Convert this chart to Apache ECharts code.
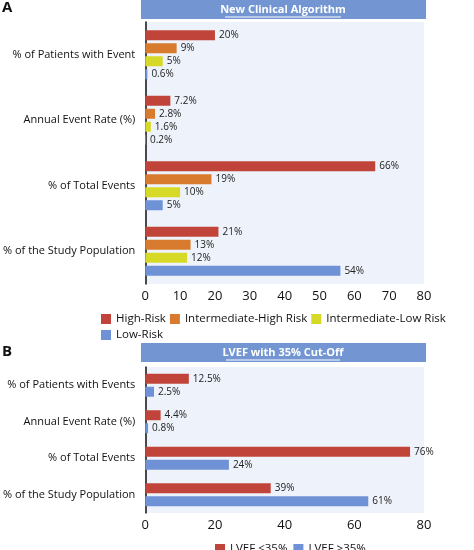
<!DOCTYPE html><html><head><meta charset="utf-8"><script src="https://cdn.jsdelivr.net/npm/echarts@6/dist/echarts.min.js"></script><style>body{margin:0;background:#fff}#c{width:474px;height:550px}</style></head><body><div id="c"></div><script>
const catsA=['% of Patients with Event','Annual Event Rate (%)','% of Total Events','% of the Study Population'];
const namesA=['High-Risk','Intermediate-High Risk','Intermediate-Low Risk','Low-Risk'];
const high=[20,7.2,66,21], highL=['20%','7.2%','66%','21%'];
const ihigh=[9,2.8,19,13], ihighL=['9%','2.8%','19%','13%'];
const ilow=[5,1.6,10,12], ilowL=['5%','1.6%','10%','12%'];
const low=[0.6,0.2,5,56], lowL=['0.6%','0.2%','5%','54%'];
const catsB=['% of Patients with Events','Annual Event Rate (%)','% of Total Events','% of the Study Population'];
const namesB=['LVEF ≤35%','LVEF >35%'];
const lvLow=[12.5,4.4,76,36], lvLowL=['12.5%','4.4%','76%','39%'];
const lvHigh=[2.5,0.8,24,64], lvHighL=['2.5%','0.8%','24%','61%'];
const colsA=['#c1443a','#d97b2e','#d6da26','#6f92d6'];
const colsB=['#c1443a','#6f92d6'];
const F='"Open Sans",sans-serif';
function ser(name,data,labels,color,idx){return {name,type:'bar',xAxisIndex:idx,yAxisIndex:idx,data,barWidth:10,barGap:'30%',itemStyle:{color},
 label:{show:true,position:'right',distance:4,fontSize:10,color:'#222',fontFamily:F,formatter:p=>labels[p.dataIndex]}};}
const xa=(idx,max)=>({gridIndex:idx,min:0,max,interval:idx?20:10,axisLine:{lineStyle:{color:'#111'}},axisTick:{lineStyle:{color:'#111'},length:4},splitLine:{show:false},axisLabel:{fontSize:13,color:'#111',fontFamily:F,margin:6}});
const ya=(idx,cats)=>({gridIndex:idx,type:'category',data:cats,inverse:true,axisLine:{lineStyle:{color:'#111',width:1.5}},axisTick:{show:false},axisLabel:{fontSize:11,color:'#111',fontFamily:F,margin:10}});
const chart=echarts.init(document.getElementById('c'));
chart.setOption({animation:false,
grid:[{left:141,width:283,top:22,height:262,show:true,backgroundColor:'#eef2fa',borderWidth:0},{left:141,width:283,top:367,height:146,show:true,backgroundColor:'#eef2fa',borderWidth:0}],
xAxis:[xa(0,80),xa(1,80)],yAxis:[ya(0,catsA),ya(1,catsB)],
legend:[{data:namesA,top:308,left:96,itemWidth:10,itemHeight:10,itemGap:4,textStyle:{fontSize:11.5,color:'#111',fontFamily:F},icon:'rect'},
 {data:namesB,top:538,left:210,itemWidth:10,itemHeight:10,itemGap:6,textStyle:{fontSize:11.5,color:'#111',fontFamily:F},icon:'rect'}],
graphic:[
 {type:'text',left:2,top:0,style:{text:'A',font:'bold 15px "Open Sans",sans-serif',fill:'#111'}},
 {type:'text',left:2,top:344,style:{text:'B',font:'bold 15px "Open Sans",sans-serif',fill:'#111'}},
 {type:'rect',shape:{x:141,y:0,width:285,height:19},style:{fill:'#7396d3'}},
 {type:'text',x:283,y:10,style:{text:'New Clinical Algorithm',align:'center',verticalAlign:'middle',font:'bold 11px "Open Sans",sans-serif',fill:'#fff'}},
 {type:'line',shape:{x1:225,y1:17,x2:341,y2:17},style:{stroke:'#fff',lineWidth:1}},
 {type:'rect',shape:{x:141,y:343,width:285,height:19},style:{fill:'#7396d3'}},
 {type:'text',x:283,y:353,style:{text:'LVEF with 35% Cut-Off',align:'center',verticalAlign:'middle',font:'bold 11px "Open Sans",sans-serif',fill:'#fff'}},
 {type:'line',shape:{x1:226,y1:360,x2:340,y2:360},style:{stroke:'#fff',lineWidth:1}}
],
series:[ser(namesA[0],high,highL,colsA[0],0),ser(namesA[1],ihigh,ihighL,colsA[1],0),ser(namesA[2],ilow,ilowL,colsA[2],0),ser(namesA[3],low,lowL,colsA[3],0),
 ser(namesB[0],lvLow,lvLowL,colsB[0],1),ser(namesB[1],lvHigh,lvHighL,colsB[1],1)]
});
</script></body></html>
